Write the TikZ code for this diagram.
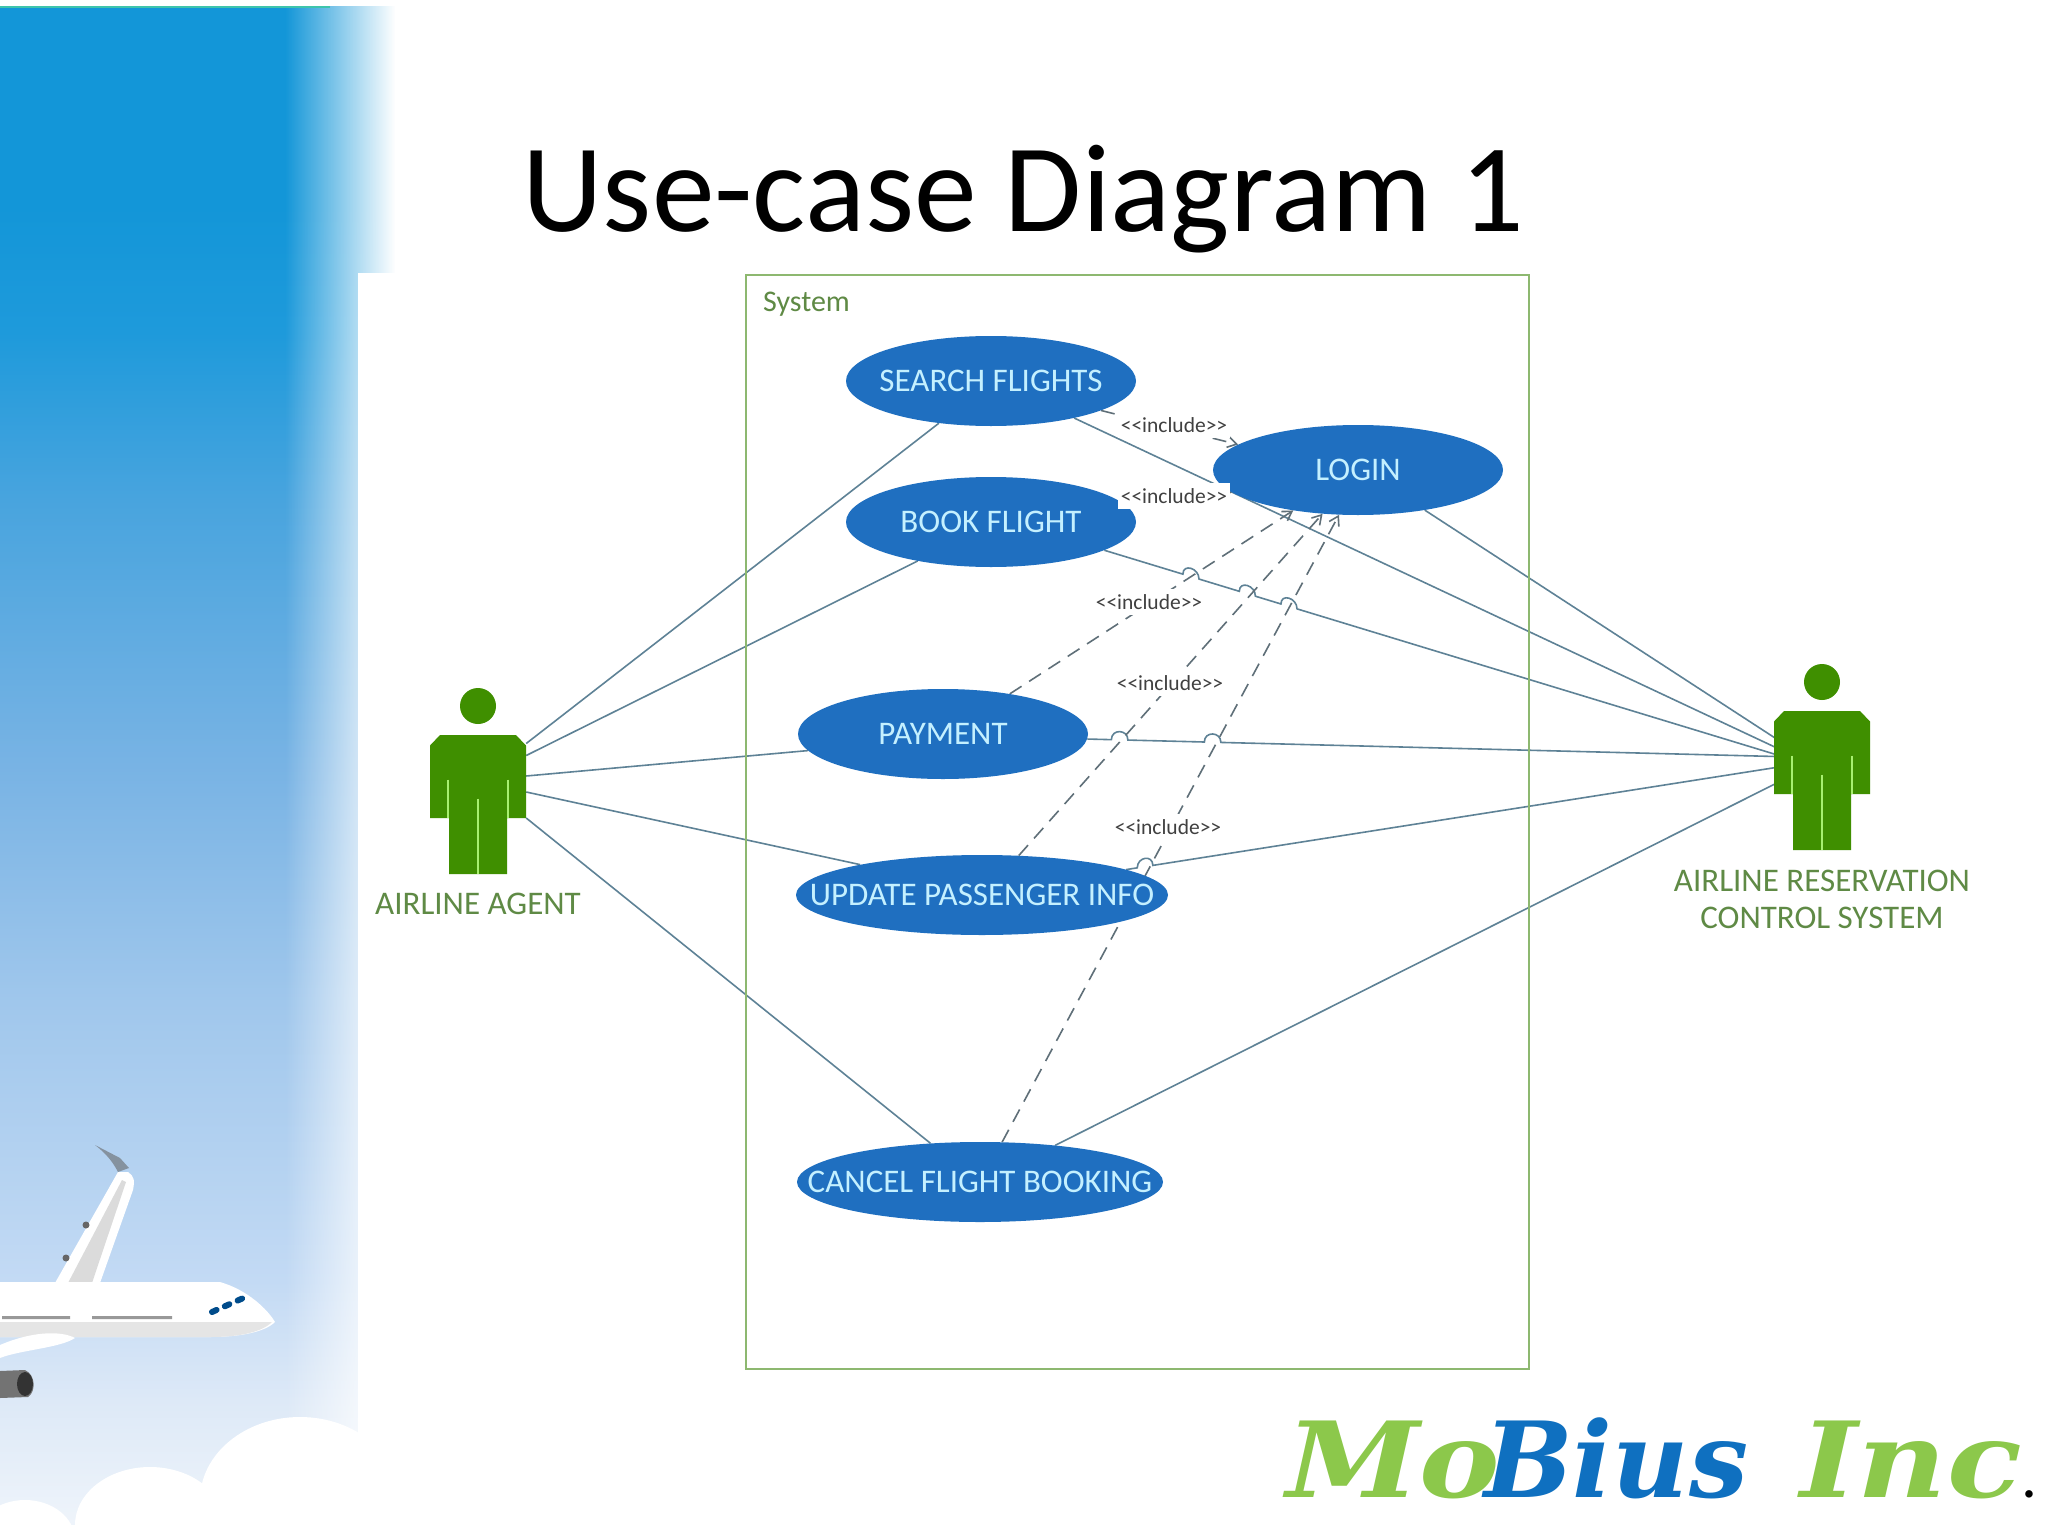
\documentclass[tikz,border=0pt]{standalone}
\usepackage{fontspec}
\setmainfont{Carlito}
\newfontfamily\logofont{DejaVu Serif}
\usetikzlibrary{shapes.geometric,calc,arrows.meta,fadings}
\pgfdeclarelayer{backdrop}\pgfdeclarelayer{links}
\pgfsetlayers{backdrop,links,main}
\definecolor{skyA}{HTML}{1396D8}\definecolor{skyB}{HTML}{1E9ADB}\definecolor{skyC}{HTML}{48A4DE}
\definecolor{skyD}{HTML}{78B3E4}\definecolor{skyE}{HTML}{A0C7EC}\definecolor{skyF}{HTML}{C3DAF4}
\definecolor{skyG}{HTML}{DDE9F7}\definecolor{skyH}{HTML}{F0F5FB}
\definecolor{ucblue}{HTML}{1F6FC0}\definecolor{uctext}{HTML}{C4F0FF}
\definecolor{actgreen}{HTML}{3F8F00}\definecolor{actlight}{HTML}{A8F070}\definecolor{acttext}{HTML}{5F8A45}
\definecolor{frame}{HTML}{8DB870}\definecolor{linkc}{HTML}{5E8296}\definecolor{dashc}{HTML}{5F6F78}
\definecolor{logog}{HTML}{8CC84B}\definecolor{logob}{HTML}{0F70C0}
\pgfdeclareverticalshading{skyband}{100bp}{color(0bp)=(skyH); color(25bp)=(skyH); color(29.45bp)=(skyG); color(33.35bp)=(skyF);
 color(42.45bp)=(skyE); color(50.2bp)=(skyD); color(58.9bp)=(skyC); color(64.35bp)=(skyB); color(68.5bp)=(skyA); color(100bp)=(skyA)}
\tikzfading[name=toWhite,left color=transparent!100,middle color=transparent!35,right color=transparent!0]
\tikzset{
 x=1pt,y=-1pt,
 usecase/.style={ellipse,fill=ucblue,text=uctext,inner xsep=-60pt,inner ysep=0pt,font=\fontsize{33}{33}\selectfont},
 assoc/.style={draw=linkc,line width=1.6pt},
 incl/.style={draw=dashc,line width=1.6pt,dash pattern=on 14pt off 9pt,-{Straight Barb[length=9pt,width=11pt]}},
 incllabel/.style={fill=white,inner xsep=3pt,inner ysep=5pt,text=black!75,font=\fontsize{21.5}{21.5}\selectfont},
 actorlabel/.style={text=acttext,align=center,font=\fontsize{33}{37}\selectfont},
 actorbox/.style={minimum width=96pt,minimum height=83pt,inner sep=0pt},
 slit/.style={draw=actlight,line width=1.2pt},
 logotext/.style={inner sep=0pt,anchor=base west,font=\logofont\bfseries\itshape\fontsize{105}{105}\selectfont}
}
\newcommand\hopat[3]{-- ($(#1)!#3-0.012!(#2)$) .. controls ($(#1)!#3-0.012!(#2)+(0,-11)$) and ($(#1)!#3+0.012!(#2)+(0,-11)$) .. ($(#1)!#3+0.012!(#2)$)}
\newcommand\actorbody[1]{%
 \fill[actgreen] ($(#1)+(0,-70.5)$) circle (18);
 \fill[actgreen] ($(#1)+(-48,-31)$) -- ($(#1)+(-38,-41.5)$) -- ($(#1)+(38,-41.5)$) -- ($(#1)+(48,-31)$) -- ($(#1)+(48,41.5)$) -- ($(#1)+(29,41.5)$) -- ($(#1)+(29,97.5)$) -- ($(#1)+(-29,97.5)$) -- ($(#1)+(-29,41.5)$) -- ($(#1)+(-48,41.5)$) -- cycle;
 \draw[slit] ($(#1)+(-30,3)$) -- ($(#1)+(-30,41.5)$);
 \draw[slit] ($(#1)+(30,3)$) -- ($(#1)+(30,41.5)$);
 \draw[slit] ($(#1)+(0,22)$) -- ($(#1)+(0,97.5)$);
}
\begin{document}
\begin{tikzpicture}
\useasboundingbox (0,0) rectangle (2048,1536);
\begin{pgfonlayer}{backdrop}
 \fill[white] (0,0) rectangle (2048,1536);
 \shade[shading=skyband] (0,7) rectangle (395,1536);
 \fill[white,path fading=toWhite] (285,0) rectangle (395,1536);
 \fill[white] (395,0) rectangle (2048,1536);
 \fill[white] (358,273) rectangle (2048,1536);
 \fill[skyA!70!green!80!white] (0,6) rectangle (330,8);
 % cloud
 \begin{scope}
  \clip (0,1380) rectangle (392,1536);
  \fill[white] (300,1500) ellipse (100 and 83);
  \fill[white] (150,1525) ellipse (75 and 58);
  \fill[white] (25,1540) ellipse (50 and 40);
  \fill[white] (0,1525) rectangle (392,1536);
 \end{scope}
 % aeroplane
 \fill[white] (55,1283) -- (118,1172) -- (128,1172) .. controls (134,1176) and (135,1180) .. (133,1190) -- (100,1283) -- cycle;
 \fill[black!14] (68,1283) -- (122,1180) -- (126,1182) -- (92,1283) -- cycle;
 \fill[skyE!50!black!70] (95,1145) -- (120,1158) -- (129,1168) -- (118,1172) .. controls (112,1160) and (104,1152) .. (95,1145) -- cycle;
 \fill[black!60] (66,1258) circle (3.5) (86,1225) circle (3.5);
 \fill[white] (0,1282) -- (220,1282) .. controls (248,1290) and (268,1310) .. (275,1322) .. controls (265,1332) and (240,1337) .. (210,1337) -- (0,1337) -- cycle;
 \fill[black!10] (0,1322) -- (272,1322) .. controls (262,1332) and (240,1337) .. (210,1337) -- (0,1337) -- cycle;
 \fill[black!40] (2,1316) rectangle (70,1319) (92,1316) rectangle (172,1319);
 \draw[line width=6pt,color=blue!35!black!70!cyan,line cap=round,dash pattern=on 5pt off 9pt] (212,1312) -- (250,1295);
 \fill[white] (0,1345) .. controls (30,1332) and (60,1330) .. (75,1338) .. controls (60,1348) and (20,1350) .. (0,1358) -- cycle;
 \fill[black!55] (0,1371) -- (25,1370) .. controls (36,1375) and (36,1392) .. (28,1397) -- (0,1398) -- cycle;
 \fill[black!80] (25,1384) ellipse (8 and 12);
\end{pgfonlayer}

\draw[frame,line width=2pt] (746,275) rectangle (1529,1369);
\node[anchor=west,text=acttext,inner sep=0pt,font=\fontsize{30}{30}\selectfont] (syslabel) at (763,304) {System};
\node[anchor=center,inner sep=0pt,font=\fontsize{125.5}{125.5}\selectfont] (title) at (1023,199) {Use-case Diagram 1};

\node[usecase,minimum width=290pt,minimum height=90pt] (search) at (991,381) {SEARCH FLIGHTS};
\node[usecase,minimum width=290pt,minimum height=90pt] (login) at (1358,470) {LOGIN};
\node[usecase,minimum width=290pt,minimum height=90pt] (book) at (991,522) {BOOK FLIGHT};
\node[usecase,minimum width=290pt,minimum height=90pt] (payment) at (943,734) {PAYMENT};
\node[usecase,minimum width=372pt,minimum height=80pt] (update) at (982,895) {UPDATE PASSENGER INFO};
\node[usecase,minimum width=366pt,minimum height=80pt] (cancel) at (980,1182) {CANCEL FLIGHT BOOKING};

\node[actorbox] (agent) at (478,776.5) {};
\node[actorbox] (control) at (1822,752.5) {};
\actorbody{agent}
\actorbody{control}
\node[actorlabel] (agentlabel) at (478,904) {AIRLINE AGENT};
\node[actorlabel] (controllabel) at (1822,899) {AIRLINE RESERVATION\\CONTROL SYSTEM};

\coordinate (a1) at ($(agent.east)+(0,-33)$);
\coordinate (a2) at ($(agent.east)+(0,-21)$);
\coordinate (a3) at ($(agent.east)+(0,-0.5)$);
\coordinate (a4) at ($(agent.east)+(0,15.5)$);
\coordinate (a5) at ($(agent.east)+(0,41.5)$);
\coordinate (c1) at ($(control.west)+(2,-14)$);
\coordinate (c2) at ($(control.west)+(2,-5)$);
\coordinate (c3) at ($(control.west)+(2,2)$);
\coordinate (c4) at ($(control.west)+(2,4)$);
\coordinate (c5) at ($(control.west)+(2,15)$);
\coordinate (c6) at ($(control.west)+(2,31)$);
\coordinate (bk) at (book.-14);
\coordinate (pm) at (payment.-2);
\coordinate (up) at (update.10);

\begin{pgfonlayer}{links}
 \draw[assoc] (a1) -- (search.-141);
 \draw[assoc] (a2) -- (book.-152);
 \draw[assoc] (a3) -- (payment.-173);
 \draw[assoc] (a4) -- (update.166);
 \draw[assoc] (a5) -- (cancel.142);
 \draw[assoc] (login.-31) -- (c1);
 \draw[assoc] (search.-24) -- (c2);
 \draw[assoc] (bk) \hopat{bk}{c3}{0.129} \hopat{bk}{c3}{0.213} \hopat{bk}{c3}{0.275} -- (c3);
 \draw[assoc] (pm) \hopat{pm}{c4}{0.047} \hopat{pm}{c4}{0.182} -- (c4);
 \draw[assoc] (up) \hopat{up}{c5}{0.029} -- (c5);
 \draw[assoc] (cancel.26) -- (c6);
 \draw[incl] (search.-15) -- (login.168);
 \draw[incl] (book.8.5) -- (login.-170);
 \draw[incl] (payment.31.6) -- (login.-148);
 \draw[incl] (update.47) -- (login.-129);
 \draw[incl] (cancel.61) -- (login.-113);
\end{pgfonlayer}

\node[incllabel] (i1) at (1174,425) {<{}<include>{}>};
\node[incllabel] (i2) at (1174,496) {<{}<include>{}>};
\node[incllabel] (i3) at (1149,602) {<{}<include>{}>};
\node[incllabel] (i4) at (1170,683) {<{}<include>{}>};
\node[incllabel] (i5) at (1168,827) {<{}<include>{}>};

\node[logotext,text=logog] (logoa) at (1286,1497) {\scalebox{1.15}[1]{Mo}};
\node[logotext,text=logob] (logob) at (1484,1497) {Bius};
\node[logotext,text=logog] (logoc) at (1800,1497) {\scalebox{1.17}[1]{Inc}};
\node[inner sep=0pt,anchor=base west,font=\logofont\bfseries\fontsize{40}{40}\selectfont] (logod) at (2022,1497) {.};
\end{tikzpicture}
\end{document}
